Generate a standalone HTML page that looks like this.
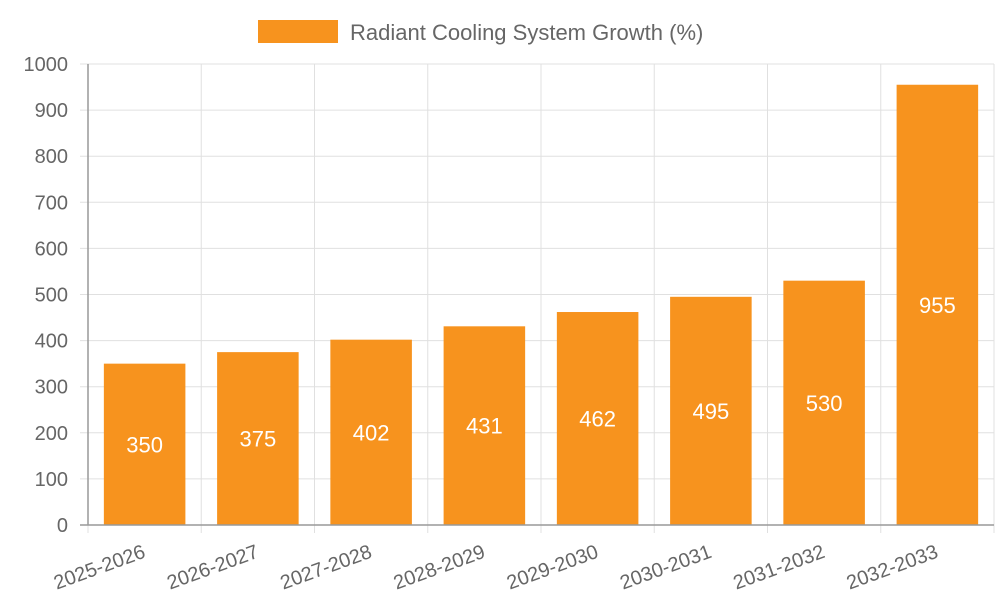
<!DOCTYPE html>
<html><head><meta charset="utf-8"><style>
body{margin:0;background:#fff;}
svg{display:block;font-family:"Liberation Sans",sans-serif;}
</style></head><body>
<svg id="chart" width="1000" height="600">
<g>
<rect x="258" y="20" width="80" height="23" fill="#f7931e"></rect>
<text x="350" y="40" font-size="22" fill="#666">Radiant Cooling System Growth (%)</text>
</g>
<g id="grid"></g>
<g id="bars"></g>
<g id="axes"></g>
</svg>
<script>
const categories=["2025-2026","2026-2027","2027-2028","2028-2029","2029-2030","2030-2031","2031-2032","2032-2033"];
const values=[350,375,402,431,462,495,530,955];
const yTicks=[0,100,200,300,400,500,600,700,800,900,1000];
const NS="http://www.w3.org/2000/svg";
const L=88,R=994,T=64,B=525,yMax=1000;
const bw=(R-L)/categories.length;
const y=v=>B-(v/yMax)*(B-T);
const xC=i=>L+bw*(i+0.5);
function mk(tag,attrs,parent,txt){const e=document.createElementNS(NS,tag);for(const k in attrs)e.setAttribute(k,attrs[k]);if(txt!==undefined)e.textContent=txt;parent.appendChild(e);return e;}
const grid=document.getElementById('grid'),bars=document.getElementById('bars'),axes=document.getElementById('axes');
yTicks.forEach(t=>{
  const g=mk('line',{x1:L-8,x2:R,y1:y(t),y2:y(t),stroke:'#e0e0e0','stroke-width':1},grid);
  
  
  const lb=mk('text',{x:L-20,y:y(t)+7,'text-anchor':'end','font-size':20,fill:'#666'},axes,t);
  
  
});
for(let i=0;i<=categories.length;i++){
  const x=L+bw*i;
  const g=mk('line',{x1:x,x2:x,y1:T,y2:B+8,stroke:'#e0e0e0','stroke-width':1},grid);
  
  
}
categories.forEach((c,i)=>{
  const w=bw*0.72,x=xC(i)-w/2,yy=y(values[i]);
  const r=mk('rect',{x:x,y:yy,width:w,height:B-yy,fill:'#f7931e'},bars);
  
  
  const v=mk('text',{x:xC(i),y:(yy+B)/2+8,'text-anchor':'middle','font-size':22,fill:'#fff'},bars,values[i]);
  
  
  const lb=mk('text',{'text-anchor':'end','font-size':20,fill:'#666',transform:`translate(${xC(i)+2},${B+32}) rotate(-20)`},axes,c);
  
  
});
const ya=mk('line',{x1:L,x2:L,y1:T,y2:B,stroke:'#999','stroke-width':1.5},axes);


const xa=mk('line',{x1:L-8,x2:R,y1:B,y2:B,stroke:'#999','stroke-width':1.5},axes);


</script>
</body></html>
